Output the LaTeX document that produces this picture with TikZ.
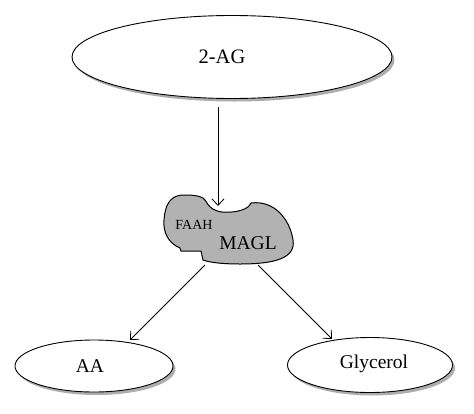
\documentclass[tikz,border=0pt]{standalone}
\usepackage{fontspec}
\setmainfont{Liberation Serif}
\usetikzlibrary{shapes.geometric,shadows,arrows.meta}
\begin{document}
\begin{tikzpicture}[x=1pt,y=-1pt,
  oval/.style={ellipse, draw=black, line width=0.9pt, fill=white, inner sep=0pt,
    drop shadow={shadow xshift=2.5pt, shadow yshift=-3pt, fill=black!40, opacity=0.8}},
  lbl/.style={inner sep=0pt, font=\fontsize{19.5}{19.5}\selectfont},
  conn/.style={line width=0.8pt, -{Straight Barb[length=6.5pt,width=12pt,line width=0.8pt]}},
  enzyme/.style={draw=black, line width=1pt, fill=black!30}]
\useasboundingbox (0,0) rectangle (474,413);
% ovals
\node[oval, minimum width=320pt, minimum height=83pt] (ag) at (232,57) {};
\node[lbl, font=\fontsize{20.5}{20.5}\selectfont] (agt) at (222,57) {2-AG};
\node[oval, minimum width=158pt, minimum height=52pt] (aa) at (94,366) {};
\node[lbl] (aat) at (90,366) {AA};
\node[oval, minimum width=165pt, minimum height=55pt] (gly) at (370,365) {};
\node[lbl] (glyt) at (374,364) {Glycerol};
% enzyme blob
\draw[enzyme] (203,198) .. controls (207,200) and (207,210) .. (222,212)
  .. controls (235,213) and (245,210) .. (249,206) -- (251,203)
  .. controls (275,200) and (290,220) .. (293,240)
  .. controls (296,258) and (275,264) .. (240,264)
  .. controls (220,264) and (208,262) .. (203,260)
  -- (201,251) -- (181,251) -- (180,248)
  .. controls (168,243) and (163,232) .. (164,220)
  .. controls (165,205) and (170,196) .. (182,195)
  .. controls (190,195) and (198,195) .. (203,198) -- cycle;
\node[inner sep=0pt, font=\fontsize{14}{14}\selectfont] (faah) at (194,225) {FAAH};
\node[lbl] (magl) at (248,243) {MAGL};
% connector ends
\coordinate (a1) at (218,107);
\coordinate (a2) at (218,206);
\coordinate (b1) at (205,265);
\coordinate (b2) at (130,340);
\coordinate (c1) at (258,265);
\coordinate (c2) at (332,339);
\draw[conn] (a1) -- (a2);
\draw[conn] (b1) -- (b2);
\draw[conn] (c1) -- (c2);
\end{tikzpicture}
\end{document}
